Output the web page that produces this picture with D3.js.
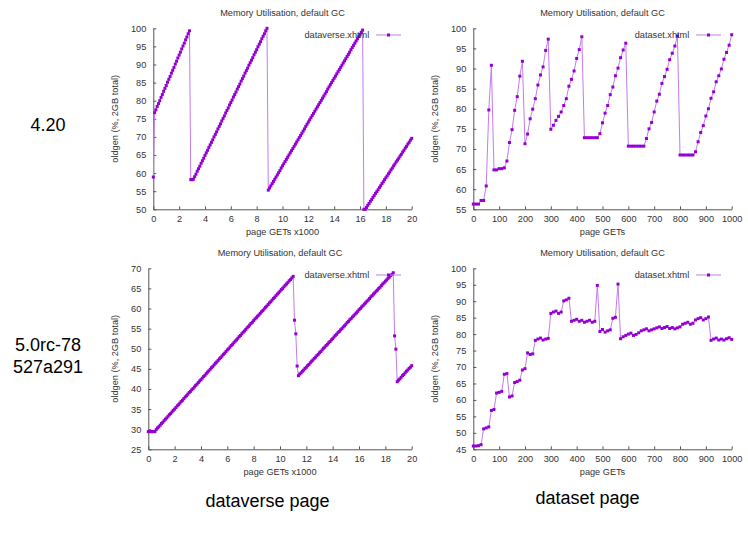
<!DOCTYPE html>
<html>
<head>
<meta charset="utf-8">
<script src="https://cdn.jsdelivr.net/npm/d3@7"></script>
<style>
  html, body { margin: 0; padding: 0; background: #fff; }
  svg { display: block; }
</style>
</head>
<body>
<svg id="chart" width="748" height="540"></svg>
<script>
// ---------------- DATA ----------------
// sample spacing of each series (x units of the axis)
const dataverseStep = 0.1;   // x1000 page GETs
const datasetStep = 10;      // page GETs

// Dataverse 4.20, dataverse.xhtml (oldgen %), one value per 100 GETs, 0..20k
const dataverse420 = [58.9,
  76.7,77.5,78.4,79.2,80.0,80.9,81.7,82.6,83.4,84.2,
  85.1,85.9,86.7,87.6,88.4,89.2,90.1,90.9,91.8,92.6,
  93.4,94.3,95.1,95.9,96.8,97.6,98.5,99.3,
  58.2,58.2,58.3,
  59.0,59.7,60.5,61.2,61.9,62.7,63.4,64.1,64.9,65.6,
  66.3,67.1,67.8,68.5,69.2,70.0,70.7,71.4,72.2,72.9,
  73.6,74.4,75.1,75.8,76.6,77.3,78.0,78.8,79.5,80.2,
  81.0,81.7,82.4,83.2,83.9,84.6,85.4,86.1,86.8,87.6,
  88.3,89.0,89.8,90.5,91.2,91.9,92.7,93.4,94.1,94.9,
  95.6,96.3,97.1,97.8,98.5,99.3,100.0,
  55.3,55.9,56.5,57.1,57.7,58.3,58.9,59.5,60.1,60.7,
  61.4,62.0,62.6,63.2,63.8,64.4,65.0,65.6,66.2,66.8,
  67.4,68.0,68.6,69.2,69.8,70.4,71.0,71.6,72.2,72.9,
  73.5,74.1,74.7,75.3,75.9,76.5,77.1,77.7,78.3,78.9,
  79.5,80.1,80.7,81.3,81.9,82.5,83.2,83.8,84.4,85.0,
  85.6,86.2,86.8,87.4,88.0,88.6,89.2,89.8,90.4,91.0,
  91.6,92.2,92.8,93.4,94.1,94.7,95.3,95.9,96.5,97.1,
  97.7,98.3,98.9,99.5,
  50.0,50.0,
  50.5,51.1,51.6,52.2,52.7,53.3,53.8,54.4,54.9,55.4,
  56.0,56.5,57.1,57.6,58.2,58.7,59.2,59.8,60.3,60.9,
  61.4,62.0,62.5,63.1,63.6,64.1,64.7,65.2,65.8,66.3,
  66.9,67.4,68.0,68.5,69.1,69.6];

// Dataverse 4.20, dataset.xhtml, one value per 10 GETs, 0..1000
const dataset420 = [
  56.3,56.3,56.3,57.2,57.2,60.8,79.7,90.8,64.8,64.8,
  65.1,65.1,65.3,67.0,71.6,74.8,79.6,83.0,88.1,91.8,
  71.3,73.7,77.5,79.9,82.5,85.9,88.4,90.4,94.5,97.3,
  74.9,75.9,77.1,78.1,79.2,80.8,82.5,85.6,87.3,89.4,
  92.5,94.7,97.9,72.8,72.8,72.8,72.8,72.8,72.8,73.8,
  76.5,78.9,80.8,83.5,85.4,88.2,90.1,92.7,94.6,96.3,
  70.7,70.7,70.7,70.7,70.7,70.7,70.7,72.6,75.0,76.6,
  79.2,81.9,83.6,86.3,88.0,89.8,92.2,93.8,95.6,98.1,
  68.5,68.5,68.5,68.5,68.5,68.5,69.3,71.8,74.1,75.8,
  78.2,80.0,82.6,84.2,86.7,88.2,89.9,92.3,94.0,95.8,
  98.4];

// Dataverse 5.0rc-78 527a291, dataverse.xhtml, one value per 100 GETs
const dataverse50 = [29.4,29.4,29.4,29.4,29.4,29.4,
  29.9,30.3,30.6,31.0,31.4,31.7,32.1,32.5,32.8,33.2,
  33.6,33.9,34.3,34.7,35.0,35.4,35.8,36.1,36.5,36.9,
  37.2,37.6,38.0,38.3,38.7,39.1,39.4,39.8,40.1,40.5,
  40.9,41.2,41.6,42.0,42.3,42.7,43.1,43.4,43.8,44.2,
  44.5,44.9,45.3,45.6,46.0,46.4,46.7,47.1,47.5,47.8,
  48.2,48.6,48.9,49.3,49.7,50.0,50.4,50.8,51.1,51.5,
  51.9,52.2,52.6,53.0,53.3,53.7,54.1,54.4,54.8,55.2,
  55.5,55.9,56.3,56.6,57.0,57.4,57.7,58.1,58.4,58.8,
  59.2,59.5,59.9,60.3,60.6,61.0,61.4,61.7,62.1,62.5,
  62.8,63.2,63.6,63.9,64.3,64.7,65.0,65.4,65.8,66.1,
  66.5,66.9,67.2,67.6,68.0,
  57.1,53.7,45.7,
  43.3,43.7,44.0,44.4,44.7,45.1,45.4,45.8,46.1,46.5,
  46.9,47.2,47.6,47.9,48.3,48.6,49.0,49.3,49.7,50.1,
  50.4,50.8,51.1,51.5,51.8,52.2,52.5,52.9,53.3,53.6,
  54.0,54.3,54.7,55.0,55.4,55.7,56.1,56.5,56.8,57.2,
  57.5,57.9,58.2,58.6,58.9,59.3,59.7,60.0,60.4,60.7,
  61.1,61.4,61.8,62.1,62.5,62.9,63.2,63.6,63.9,64.3,
  64.6,65.0,65.3,65.7,66.1,66.4,66.8,67.1,67.5,67.8,
  68.2,68.5,68.9,
  53.2,49.9,41.8,
  42.2,42.5,42.9,43.3,43.6,44.0,44.4,44.7,45.1,45.4,45.8];

// Dataverse 5.0rc-78 527a291, dataset.xhtml, one value per 10 GETs
const dataset50 = [
  46.0,46.0,46.1,46.4,51.2,51.5,51.8,56.8,57.1,62.1,
  62.3,62.6,67.8,68.0,60.9,61.2,65.3,65.6,66.0,69.1,
  69.5,74.3,73.8,74.0,78.1,78.5,78.8,78.2,78.5,78.7,
  86.3,86.7,87.0,86.3,86.7,90.1,90.4,90.9,83.9,84.2,
  84.5,83.9,84.2,83.6,83.9,84.2,83.6,83.9,94.8,80.8,
  81.4,80.6,81.0,81.3,84.8,85.1,95.2,78.6,79.2,79.6,
  80.0,80.3,79.6,79.9,80.4,81.0,81.3,81.6,81.0,81.3,
  81.6,81.9,82.2,81.7,82.0,82.3,81.7,82.0,81.6,81.9,
  82.2,83.0,83.3,83.6,83.0,83.3,84.3,84.7,85.0,84.3,
  84.7,85.2,78.1,78.5,78.8,78.2,78.5,78.2,78.6,78.9,
  78.4];

// tick labels
const xTicksDataverse = [0,2,4,6,8,10,12,14,16,18,20];
const xTicksDataset = [0,100,200,300,400,500,600,700,800,900,1000];
const yTicksDv420 = [50,55,60,65,70,75,80,85,90,95,100];
const yTicksDs420 = [55,60,65,70,75,80,85,90,95,100];
const yTicksDv50 = [25,30,35,40,45,50,55,60,65,70];
const yTicksDs50 = [45,50,55,60,65,70,75,80,85,90,95,100];

// texts
const panelTitle = "Memory Utilisation, default GC";
const yTitle = "oldgen (%, 2GB total)";
const rowLabels = [["4.20"], ["5.0rc-78", "527a291"]];
const colLabels = ["dataverse page", "dataset page"];

// ---------------- DRAWING ----------------
const FONT = "'Liberation Sans', Arial, Helvetica, sans-serif";
const lineColor = "#c27cf0";
const pointColor = "#9400d3";
const svg = d3.select("#chart");
svg.append("rect").attr("width", 748).attr("height", 540).attr("fill", "#fff");

const panels = [
  { data: dataverse420, step: dataverseStep, xDomain: [0, 20], yDomain: [50, 100],
    xTicks: xTicksDataverse, yTicks: yTicksDv420, xTitle: "page GETs x1000", legend: "dataverse.xhtml",
    box: { l: 153.3, r: 411.7, t: 28.3, b: 209.3 }, yTitleX: 115 },
  { data: dataset420, step: datasetStep, xDomain: [0, 1000], yDomain: [55, 100],
    xTicks: xTicksDataset, yTicks: yTicksDs420, xTitle: "page GETs", legend: "dataset.xhtml",
    box: { l: 473.3, r: 731.7, t: 28.3, b: 209.3 }, yTitleX: 435 },
  { data: dataverse50, step: dataverseStep, xDomain: [0, 20], yDomain: [25, 70],
    xTicks: xTicksDataverse, yTicks: yTicksDv50, xTitle: "page GETs x1000", legend: "dataverse.xhtml",
    box: { l: 148.3, r: 411.7, t: 268.3, b: 449.3 }, yTitleX: 115 },
  { data: dataset50, step: datasetStep, xDomain: [0, 1000], yDomain: [45, 100],
    xTicks: xTicksDataset, yTicks: yTicksDs50, xTitle: "page GETs", legend: "dataset.xhtml",
    box: { l: 473.3, r: 731.7, t: 268.3, b: 449.3 }, yTitleX: 435 }
];

function styleAxis(g) {
  g.attr("font-family", FONT).attr("font-size", "9.2px");
  g.selectAll("text").attr("fill", "#333");
  g.selectAll("line").attr("stroke", "#555");
  g.select(".domain").attr("stroke", "#555");
}

panels.forEach(p => {
  const b = p.box;
  const x = d3.scaleLinear().domain(p.xDomain).range([b.l, b.r]);
  const y = d3.scaleLinear().domain(p.yDomain).range([b.b, b.t]);
  const g = svg.append("g");

  g.append("g")
    .attr("transform", `translate(0,${b.b})`)
    .call(d3.axisBottom(x).tickValues(p.xTicks).tickFormat(d3.format("d"))
      .tickSizeInner(-3).tickSizeOuter(0).tickPadding(6))
    .call(styleAxis);
  g.append("g")
    .attr("transform", `translate(${b.l},0)`)
    .call(d3.axisLeft(y).tickValues(p.yTicks).tickFormat(d3.format("d"))
      .tickSizeInner(-3).tickSizeOuter(0).tickPadding(7))
    .call(styleAxis);

  // title
  g.append("text").attr("x", (b.l + b.r) / 2).attr("y", b.t - 12)
    .attr("text-anchor", "middle").attr("font-family", FONT).attr("font-size", "9.2px")
    .attr("fill", "#333").text(panelTitle);
  // x title
  g.append("text").attr("x", (b.l + b.r) / 2).attr("y", b.b + 25.7)
    .attr("text-anchor", "middle").attr("font-family", FONT).attr("font-size", "9.2px")
    .attr("fill", "#333").text(p.xTitle);
  // y title
  g.append("text")
    .attr("transform", `translate(${p.yTitleX + 3.2},${(b.t + b.b) / 2}) rotate(-90)`)
    .attr("text-anchor", "middle").attr("font-family", FONT).attr("font-size", "9.2px")
    .attr("fill", "#333").text(yTitle);

  // series line
  const line = d3.line().x((d, i) => x(i * p.step)).y(d => y(d));
  g.append("path").datum(p.data).attr("d", line)
    .attr("fill", "none").attr("stroke", lineColor).attr("stroke-width", 1);
  // points
  g.append("g").selectAll("rect").data(p.data).join("rect")
    .attr("x", (d, i) => x(i * p.step) - 1.5).attr("y", d => y(d) - 1.5)
    .attr("width", 3).attr("height", 3).attr("fill", pointColor);

  // legend
  const ly = b.t + 6.7;
  g.append("text").attr("x", b.r - 42.4).attr("y", ly + 3.2)
    .attr("text-anchor", "end").attr("font-family", FONT).attr("font-size", "9.2px")
    .attr("fill", "#333").text(p.legend);
  g.append("line").attr("x1", b.r - 35.7).attr("x2", b.r - 10.7)
    .attr("y1", ly).attr("y2", ly).attr("stroke", lineColor).attr("stroke-width", 1);
  g.append("rect").attr("x", b.r - 23.2 - 1.5).attr("y", ly - 1.5)
    .attr("width", 3).attr("height", 3).attr("fill", pointColor);
});

// row labels
const rowBaselines = [[130.7], [350.7, 372.7]];
rowLabels.forEach((lines, r) => {
  lines.forEach((t, k) => {
    svg.append("text").attr("x", 48).attr("y", rowBaselines[r][k])
      .attr("text-anchor", "middle").attr("font-family", FONT).attr("font-size", "18px")
      .attr("fill", "#000").text(t);
  });
});
// column labels
const colPos = [[267.5, 507], [587.5, 504]];
colLabels.forEach((t, c) => {
  svg.append("text").attr("x", colPos[c][0]).attr("y", colPos[c][1])
    .attr("text-anchor", "middle").attr("font-family", FONT).attr("font-size", "18px")
    .attr("fill", "#000").text(t);
});
</script>
</body>
</html>
